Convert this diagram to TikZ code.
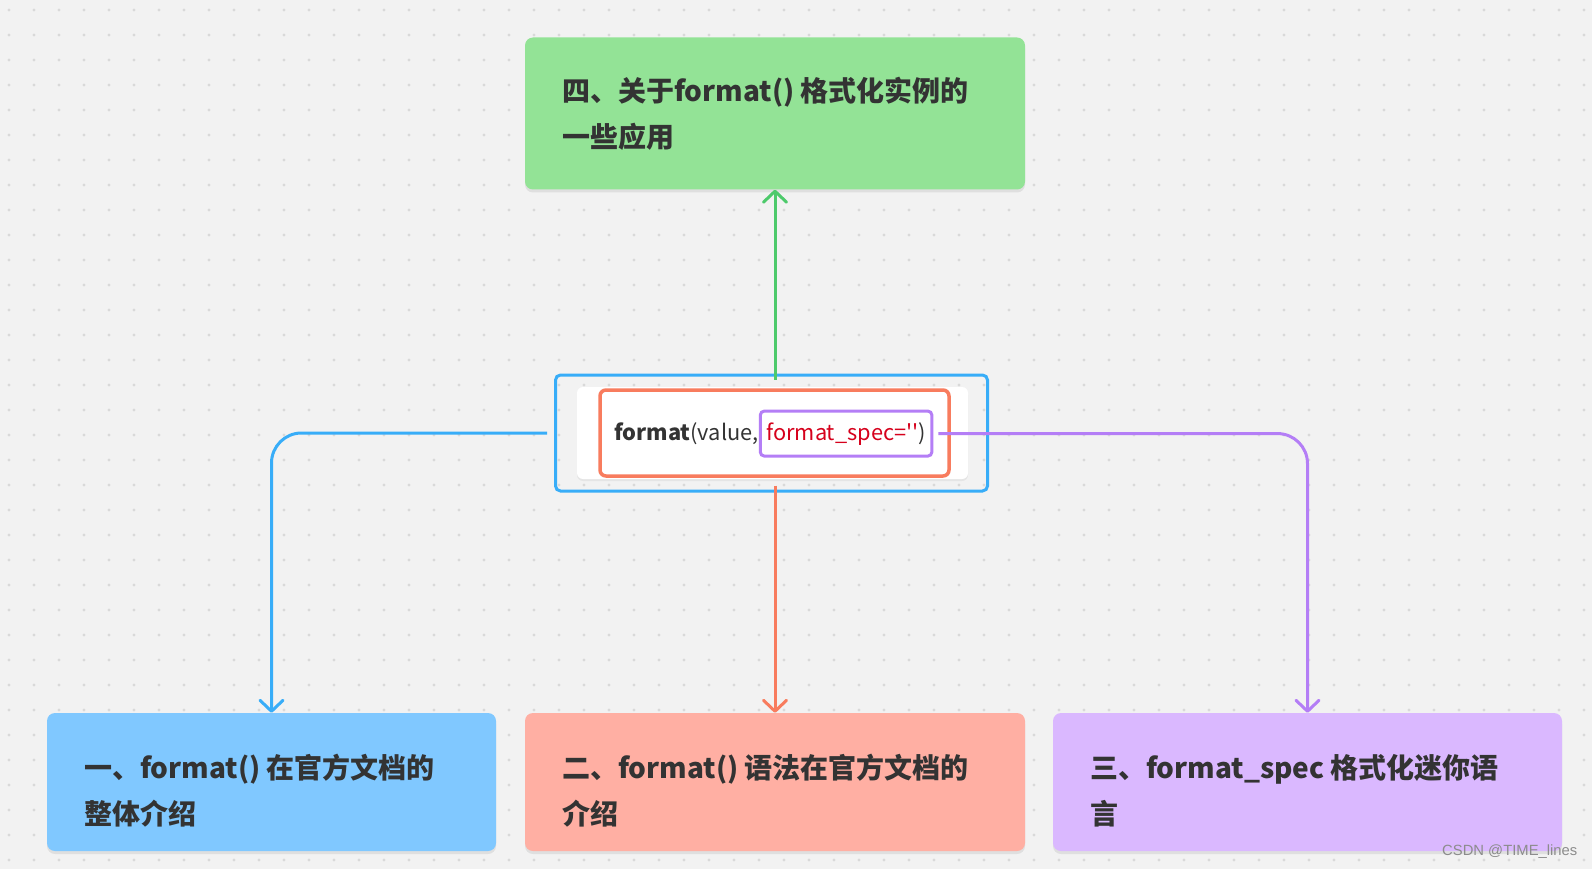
\documentclass[tikz,border=0pt]{standalone}
\usepackage{fontspec}
\setmainfont{Noto Sans CJK SC}
\newfontfamily\codefont{Noto Sans CJK SC}[Ligatures=TeXOff]
\newfontfamily\markfont{Liberation Sans}
\usetikzlibrary{arrows.meta,shadows}
\definecolor{bgc}{HTML}{F2F2F2}
\definecolor{dotc}{HTML}{D9D9D9}
\definecolor{txt}{HTML}{333333}
\definecolor{codered}{HTML}{D6001C}
\definecolor{greenf}{HTML}{93E396}
\definecolor{bluef}{HTML}{80C8FF}
\definecolor{salmonf}{HTML}{FFAFA3}
\definecolor{purplef}{HTML}{DAB8FF}
\definecolor{greenl}{HTML}{4DCA6B}
\definecolor{bluel}{HTML}{38ADF8}
\definecolor{orangel}{HTML}{F87C5E}
\definecolor{purplel}{HTML}{B47EF6}
\begin{document}
\begin{tikzpicture}[x=1pt, y=-1pt,
    box/.style={fill=#1, rounded corners=8pt, inner sep=0pt, minimum height=138,
      drop shadow={shadow xshift=0pt, shadow yshift=-3pt, opacity=.08, fill=black}},
    boxtext/.style={anchor=north west, inner sep=0pt, align=left, text=txt,
      font=\fontsize{28pt}{46pt}\selectfont\bfseries},
    code/.style={inner sep=0pt, text=txt, font=\codefont\fontsize{21.8pt}{26pt}\selectfont},
    link/.style={draw=#1, line width=3pt, rounded corners=30pt,
      -{Straight Barb[length=11pt, width=23pt, round]}}]
  \useasboundingbox (0,0) rectangle (1592,869);
  \fill[bgc] (0,0) rectangle (1592,869);
  \foreach \i in {0,...,63}
    \foreach \j in {0,...,34}
      \fill[dotc] (9+25*\i,10+25*\j) circle (1.6pt);

  \node[box=greenf, minimum width=500, minimum height=152] (apps) at (775,113.5) {};
  \node[boxtext] (appstext) at ([xshift=37pt, yshift=-40pt]apps.north west) {四、关于format() 格式化实例的\\一些应用};
  \node[box=bluef, minimum width=449] (intro) at (271.5,782) {};
  \node[boxtext] (introtext) at ([xshift=37pt, yshift=-41pt]intro.north west) {一、format() 在官方文档的\\整体介绍};
  \node[box=salmonf, minimum width=500] (syntax) at (775,782) {};
  \node[boxtext] (syntaxtext) at ([xshift=37pt, yshift=-41pt]syntax.north west) {二、format() 语法在官方文档的\\介绍};
  \node[box=purplef, minimum width=509] (minilang) at (1307.5,782) {};
  \node[boxtext] (minilangtext) at ([xshift=37pt, yshift=-41pt]minilang.north west) {三、format\_spec 格式化迷你语\\言};

  \node[draw=bluel, line width=3pt, rounded corners=5pt, minimum width=432, minimum height=116] (sel) at (771.5,433) {};
  \node[fill=white, rounded corners=6pt, minimum width=391, minimum height=92,
    drop shadow={shadow xshift=0pt, shadow yshift=-2pt, opacity=.05, fill=black}] (card) at (772.5,433) {};
  \node[draw=orangel, line width=3.5pt, rounded corners=6pt, minimum width=349, minimum height=86] (frame) at (774.5,433) {};
  \node[code, anchor=base west] (head) at (614,440) {\textbf{format}(value,};
  \node[code, anchor=base west, draw=purplel, line width=3pt, rounded corners=4pt, inner xsep=6pt, minimum height=45] (spec) at (head.base east) {\textcolor{codered}{format\_spec=''})};

  \draw[link=greenl] ([yshift=-6pt]apps.south |- sel.north) -- (apps.south);
  \draw[link=orangel] ([yshift=7pt]syntax.north |- sel.south) -- (syntax.north);
  \draw[link=bluel] ([xshift=-7pt]sel.west) -| (intro.north);
  \draw[link=purplel] ([xshift=5pt]spec.east) -| (minilang.north);

  \node[anchor=west, inner sep=0pt, text=black!45, font=\markfont\fontsize{14.8pt}{16pt}\selectfont] (mark) at (1442,852) {CSDN @TIME\_lines};
\end{tikzpicture}
\end{document}
